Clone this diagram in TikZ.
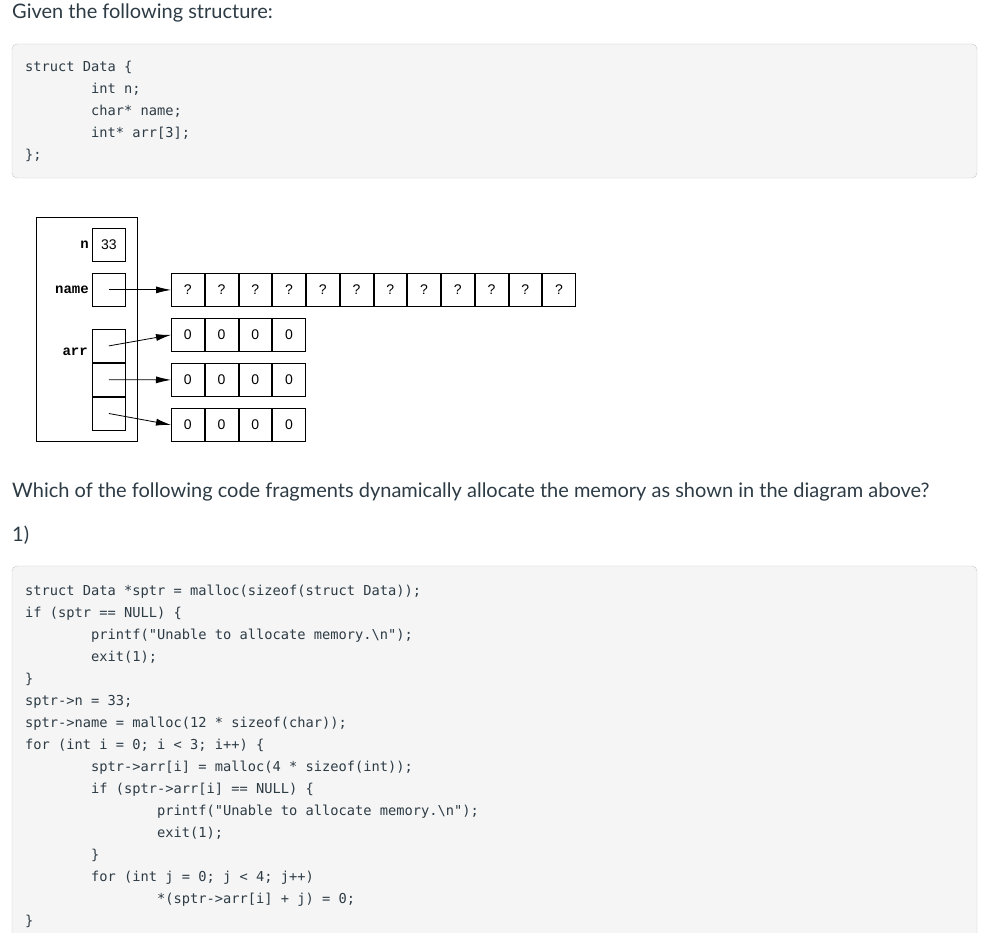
\documentclass[tikz,border=0pt]{standalone}
\usepackage{fontspec}
\setmainfont{Lato}
\setmonofont{DejaVu Sans Mono}
\newfontfamily\courfont{Liberation Mono}
\newfontfamily\arialfont{Liberation Sans}
\usetikzlibrary{positioning}
\usetikzlibrary{arrows.meta}

\definecolor{codebg}{HTML}{F5F5F5}
\definecolor{codeline}{HTML}{C8C8C8}
\definecolor{textgray}{HTML}{2D3B45}

\tikzset{
  prose/.style={anchor=base west, inner sep=0pt, font=\fontsize{20}{24}\selectfont, text=textgray},
  code/.style={anchor=base west, inner sep=0pt, font=\ttfamily\fontsize{13.7}{16}\selectfont, text=textgray},
  codebox/.style={draw=codeline, fill=codebg, rounded corners=5pt},
  cell/.style={draw, line width=0.8pt, minimum width=32.95pt, minimum height=33pt, inner sep=0pt, font=\arialfont\fontsize{14}{16}\selectfont},
  field/.style={anchor=east, inner sep=3pt, font=\courfont\bfseries\fontsize{14}{16}\selectfont},
  ptr/.style={-{Latex[length=15pt,width=7pt]}, line width=0.8pt}
}

\begin{document}
\begin{tikzpicture}[x=1pt, y=-1pt]
  \useasboundingbox (0,0) rectangle (985,933);

  % headings
  \node[prose] (given) at (12,19) {Given the following structure:};

  % structure code
  \draw[codebox] (12,44) rectangle (977,178);
  \node[code] (s1) at (25,72) {struct Data \{};
  \node[code] (s2) at (91,94) {int n;};
  \node[code] (s3) at (91,116) {char* name;};
  \node[code] (s4) at (91,138) {int* arr[3];};
  \node[code] (s5) at (25,160) {\};};

  % struct box
  \draw[line width=0.8pt] (36,217) rectangle (137,441);
  \node[cell, anchor=north west] (n) at (92,228) {33};
  \node[cell, anchor=north west] (name) at (92,273) {};
  \node[cell, anchor=north west] (arr0) at (92,329) {};
  \node[cell, below=0pt of arr0] (arr1) {};
  \node[cell, below=0pt of arr1] (arr2) {};
  \node[field] at (n.west) (nlabel) {n};
  \node[field] at (name.west) (namelabel) {name};
  \node[field, anchor=east] (arrlabel) at (91,352) {arr};

  % char array
  \node[cell, anchor=north west] (c1) at (171,273) {?};
  \foreach \i [count=\j from 2] in {1,...,11}
    \node[cell, right=0pt of c\i] (c\j) {?};

  % int arrays
  \foreach \r/\y in {0/318, 1/363, 2/408} {
    \node[cell, anchor=north west] (r\r c1) at (171,\y) {0};
    \foreach \i [count=\j from 2] in {1,2,3}
      \node[cell, right=0pt of r\r c\i] (r\r c\j) {0};
  }

  % pointers
  \draw[ptr] (name.center) -- (c1.west);
  \draw[ptr] (arr0.center) -- (r0c1.west);
  \draw[ptr] (arr1.center) -- (r1c1.west);
  \draw[ptr] (arr2.center) -- (r2c1.west);

  % question
  \node[prose] (question) at (12,497) {Which of the following code fragments dynamically allocate the memory as shown in the diagram above?};
  \node[prose] (one) at (12,541) {1)};

  % answer code
  \draw[codebox] (12,566) rectangle (977,950);
  \node[code] (a1) at (25,595) {struct Data *sptr = malloc(sizeof(struct Data));};
  \node[code] (a2) at (25,617) {if (sptr == NULL) \{};
  \node[code] (a3) at (91,639) {printf("Unable to allocate memory.\textbackslash n");};
  \node[code] (a4) at (91,661) {exit(1);};
  \node[code] (a5) at (25,683) {\}};
  \node[code] (a6) at (25,705) {sptr->n = 33;};
  \node[code] (a7) at (25,727) {sptr->name = malloc(12 * sizeof(char));};
  \node[code] (a8) at (25,749) {for (int i = 0; i < 3; i++) \{};
  \node[code] (a9) at (91,771) {sptr->arr[i] = malloc(4 * sizeof(int));};
  \node[code] (a10) at (91,793) {if (sptr->arr[i] == NULL) \{};
  \node[code] (a11) at (157,815) {printf("Unable to allocate memory.\textbackslash n");};
  \node[code] (a12) at (157,837) {exit(1);};
  \node[code] (a13) at (91,859) {\}};
  \node[code] (a14) at (91,881) {for (int j = 0; j < 4; j++)};
  \node[code] (a15) at (157,903) {*(sptr->arr[i] + j) = 0;};
  \node[code] (a16) at (25,925) {\}};
\end{tikzpicture}
\end{document}
